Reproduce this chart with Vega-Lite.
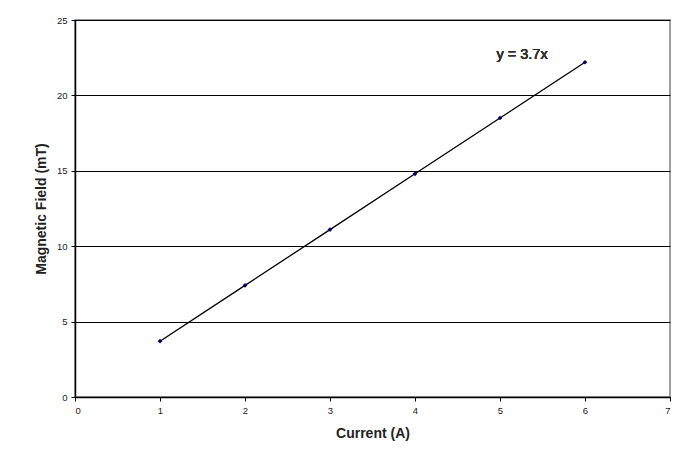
{
  "$schema": "https://vega.github.io/schema/vega-lite/v6.json",
  "width": 595,
  "height": 377,
  "autosize": "none",
  "padding": {"left": 75, "top": 20, "right": 12, "bottom": 56},
  "background": "white",
  "config": {
    "view": {"stroke": "#808080", "strokeWidth": 1.5},
    "font": "Liberation Sans",
    "axis": {
      "labelFont": "Liberation Sans",
      "titleFont": "Liberation Sans",
      "labelFontSize": 9.5,
      "labelColor": "#222222",
      "titleFontSize": 14,
      "titleFontWeight": "bold",
      "titleColor": "#222222",
      "domainColor": "black",
      "domainWidth": 1.5,
      "tickColor": "black",
      "tickSize": 4,
      "gridColor": "black",
      "gridWidth": 1,
      "gridOpacity": 1
    }
  },
  "data": {
    "values": [
      {"current": 1, "field": 3.7},
      {"current": 2, "field": 7.4},
      {"current": 3, "field": 11.1},
      {"current": 4, "field": 14.8},
      {"current": 5, "field": 18.5},
      {"current": 6, "field": 22.2}
    ]
  },
  "layer": [
    {
      "mark": {"type": "line", "color": "black", "strokeWidth": 1.3},
      "encoding": {
        "x": {
          "field": "current", "type": "quantitative",
          "scale": {"domain": [0, 7], "nice": false},
          "axis": {"title": "Current (A)", "values": [0, 1, 2, 3, 4, 5, 6, 7], "format": "d", "grid": false, "labelPadding": 4, "titlePadding": 12}
        },
        "y": {
          "field": "field", "type": "quantitative",
          "scale": {"domain": [0, 25], "nice": false},
          "axis": {"title": "Magnetic Field (mT)", "values": [0, 5, 10, 15, 20, 25], "format": "d", "labelPadding": 4, "titlePadding": 8}
        }
      }
    },
    {
      "mark": {"type": "point", "shape": "diamond", "filled": true, "color": "#000066", "size": 22, "opacity": 1},
      "encoding": {
        "x": {"field": "current", "type": "quantitative"},
        "y": {"field": "field", "type": "quantitative"}
      }
    },
    {
      "mark": {"type": "text", "text": "y = 3.7x", "font": "Liberation Sans", "fontSize": 14.5, "fontWeight": 400, "color": "#333333", "align": "center", "baseline": "middle"},
      "encoding": {
        "x": {"datum": 5.26},
        "y": {"datum": 22.7}
      }
    }
  ]
}
